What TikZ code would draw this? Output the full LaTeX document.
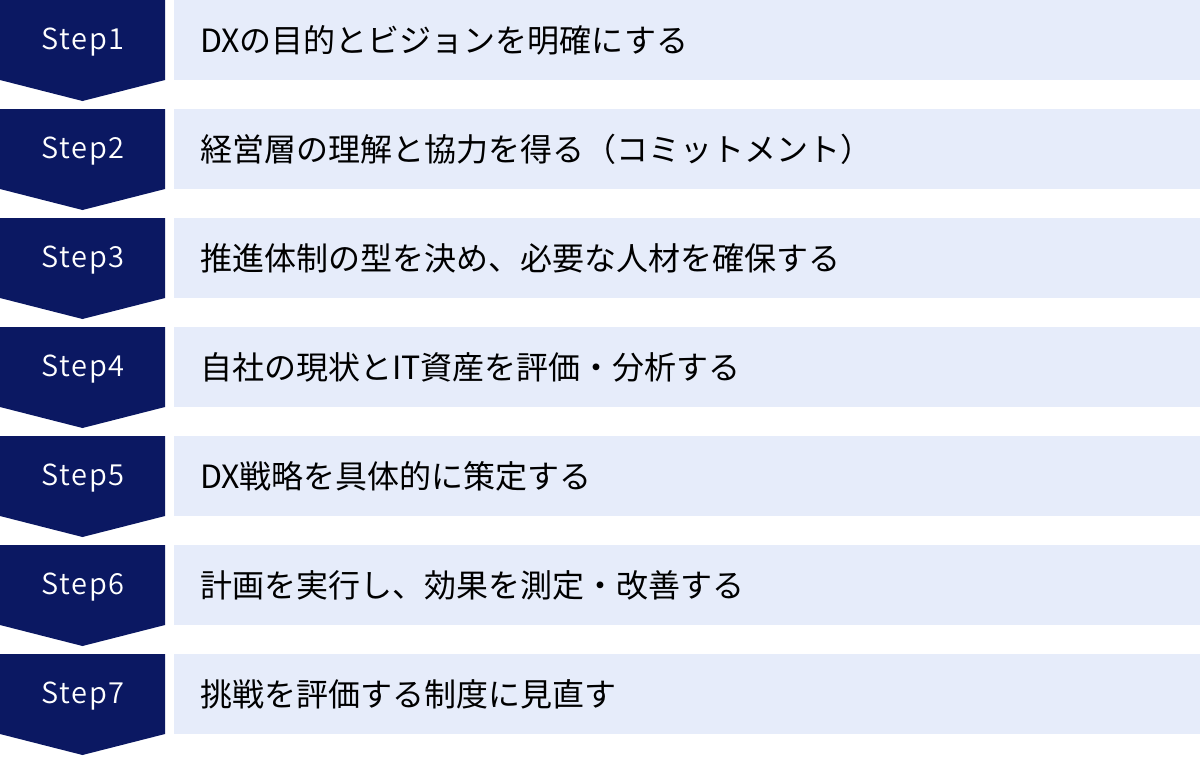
\documentclass[tikz,border=0pt]{standalone}
\usepackage{fontspec}
\setmainfont{Noto Sans CJK JP}
\newfontfamily\stepfont[LetterSpace=6]{Noto Sans CJK JP DemiLight}
\usepackage{xcolor}
\usetikzlibrary{positioning, calc}
\definecolor{stepnavy}{RGB}{11,24,98}
\definecolor{boxblue}{RGB}{230,236,250}

\begin{document}
\begin{tikzpicture}
    [x=1pt, y=-1pt,
     steplabel/.style={text=white, font=\stepfont\fontsize{29}{35}\selectfont, inner sep=0pt},
     stepshape/.style={fill=stepnavy},
     taskbox/.style={rectangle, fill=boxblue, anchor=north west,
       minimum height=80pt, inner xsep=26pt, inner ysep=0pt,
       text width=974pt, align=left, font=\fontsize{32}{38}\selectfont}]
    \useasboundingbox (0,0) rectangle (1200,756);
    % step arrows
    \fill[stepshape] (0,0) -- (165,0) -- (165,80) -- (82.5,101) -- (0,80) -- cycle;
    \fill[stepshape] (0,109) -- (165,109) -- (165,189) -- (82.5,210) -- (0,189) -- cycle;
    \fill[stepshape] (0,218) -- (165,218) -- (165,298) -- (82.5,319) -- (0,298) -- cycle;
    \fill[stepshape] (0,327) -- (165,327) -- (165,407) -- (82.5,428) -- (0,407) -- cycle;
    \fill[stepshape] (0,436) -- (165,436) -- (165,516) -- (82.5,537) -- (0,516) -- cycle;
    \fill[stepshape] (0,545) -- (165,545) -- (165,625) -- (82.5,646) -- (0,625) -- cycle;
    \fill[stepshape] (0,654) -- (165,654) -- (165,734) -- (82.5,755) -- (0,734) -- cycle;
    \node (S1) at (83,42) [steplabel] {Step1};
    \node (S2) at (83,151) [steplabel] {Step2};
    \node (S3) at (83,260) [steplabel] {Step3};
    \node (S4) at (83,369) [steplabel] {Step4};
    \node (S5) at (83,478) [steplabel] {Step5};
    \node (S6) at (83,587) [steplabel] {Step6};
    \node (S7) at (83,696) [steplabel] {Step7};
    % tasks
    \node (T1) at (174,0) [taskbox] {DXの目的とビジョンを明確にする};
    \node (T2) at (174,109) [taskbox] {経営層の理解と協力を得る（コミットメント）};
    \node (T3) at (174,218) [taskbox] {推進体制の型を決め、必要な人材を確保する};
    \node (T4) at (174,327) [taskbox] {自社の現状とIT資産を評価・分析する};
    \node (T5) at (174,436) [taskbox] {DX戦略を具体的に策定する};
    \node (T6) at (174,545) [taskbox] {計画を実行し、効果を測定・改善する};
    \node (T7) at (174,654) [taskbox] {挑戦を評価する制度に見直す};
\end{tikzpicture}
\end{document}
